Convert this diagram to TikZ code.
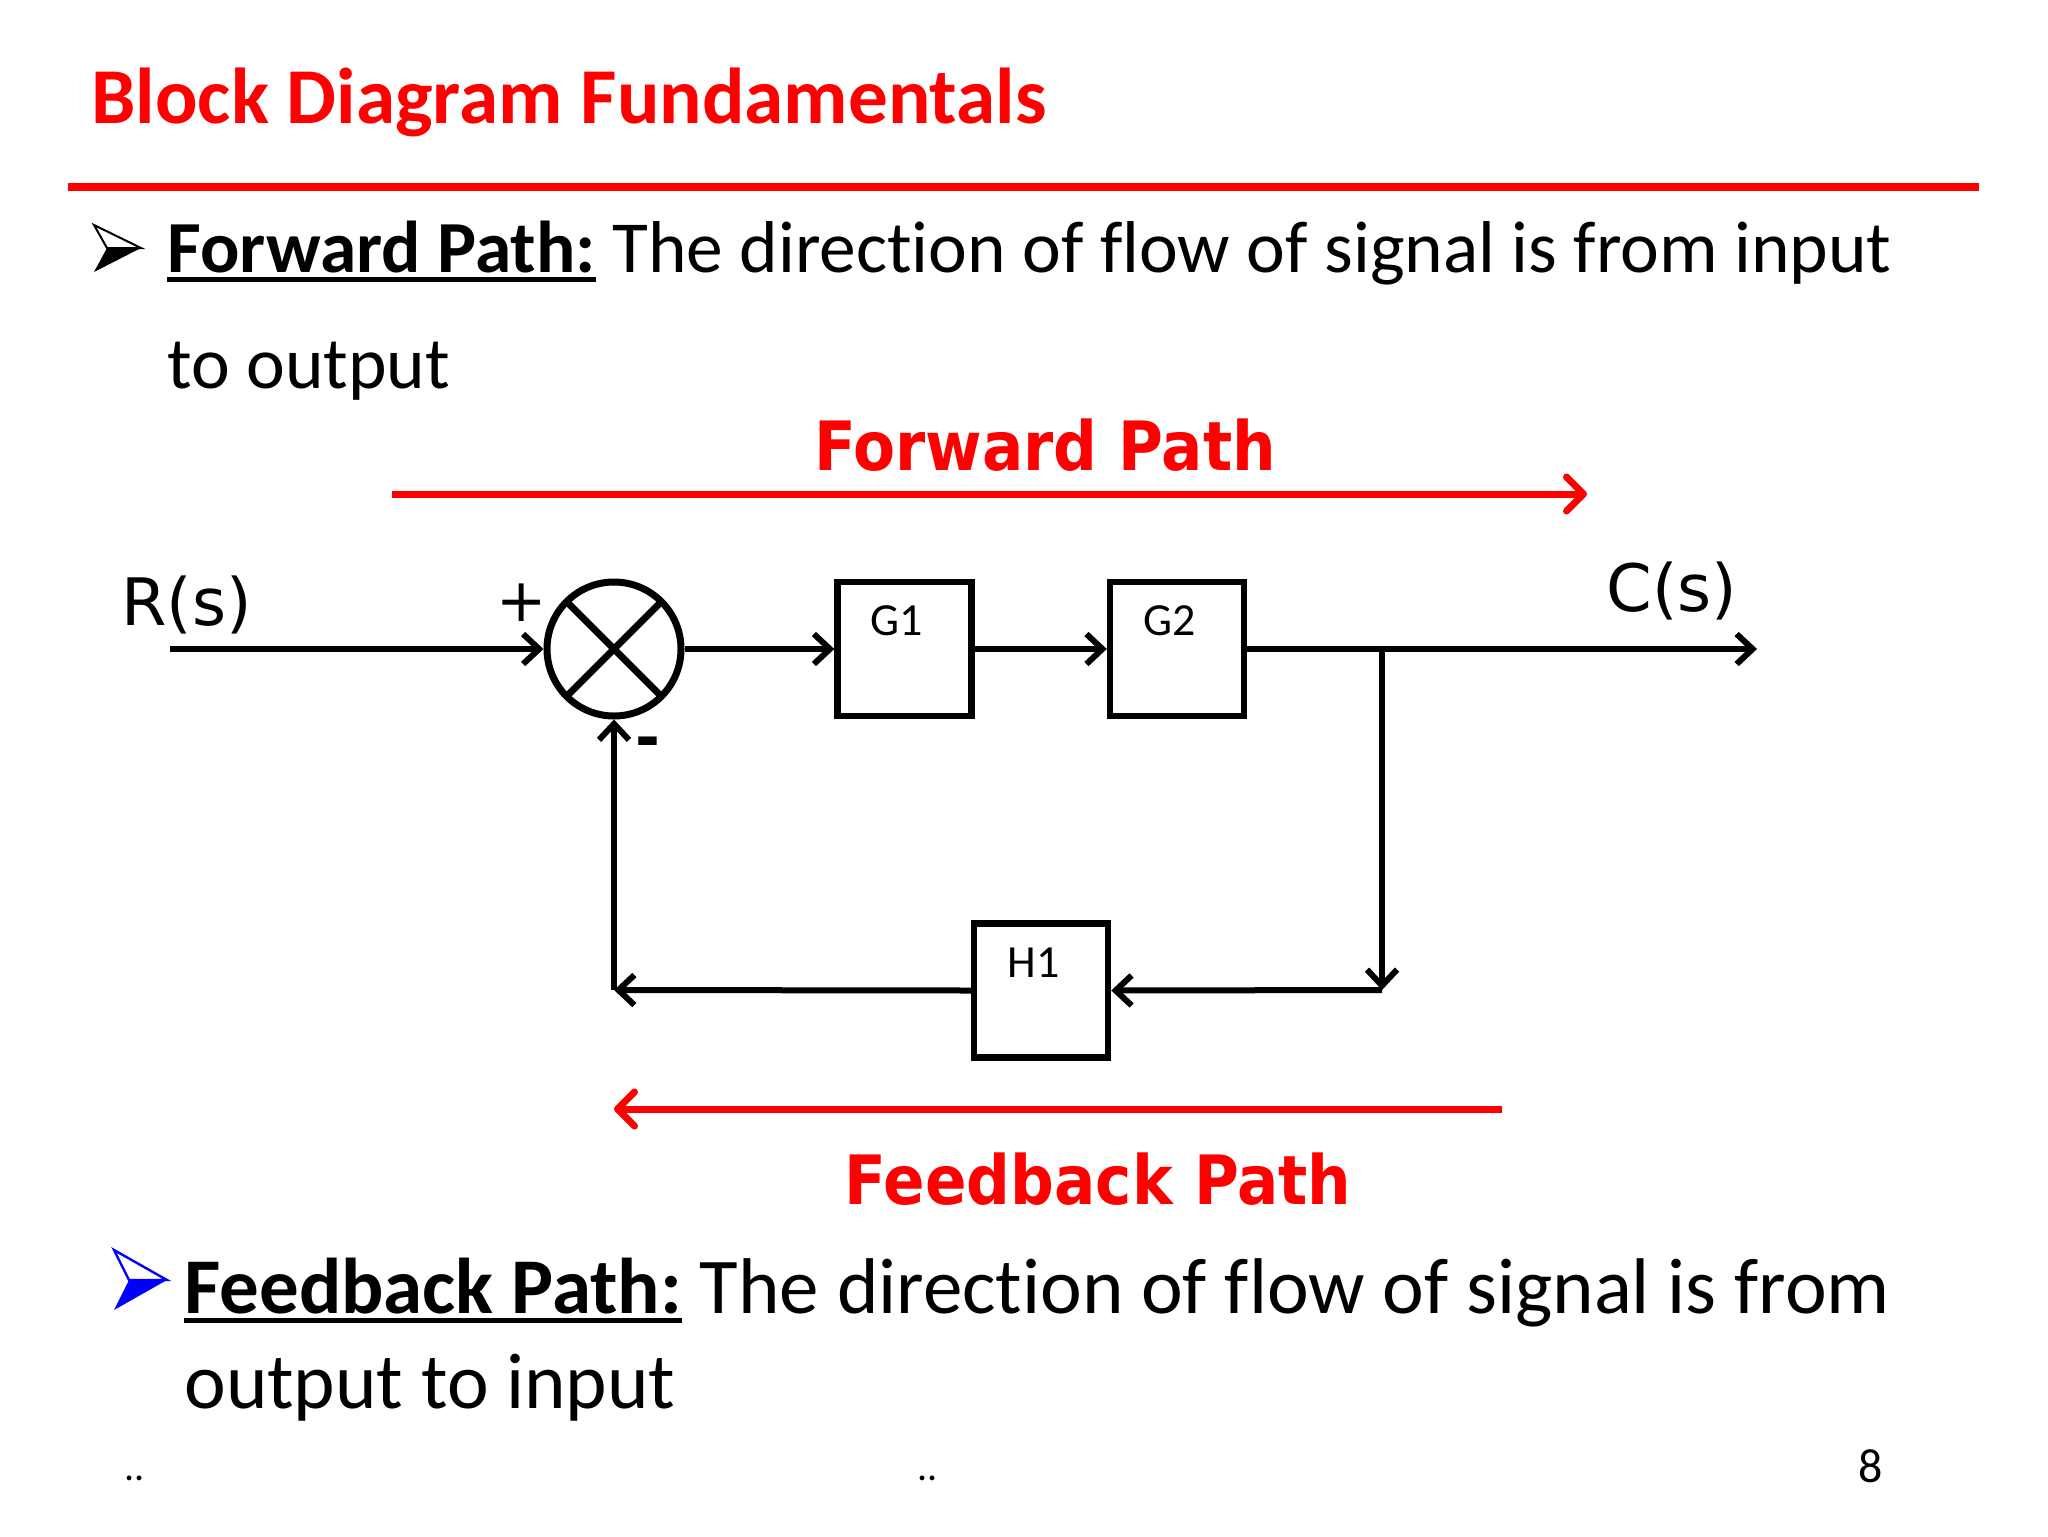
\documentclass[tikz,border=0pt]{standalone}
\usepackage{fontspec}
\setmainfont[Ligatures={NoCommon}]{Carlito}
\newfontfamily\vfont{DejaVu Sans}
\newfontfamily\vfontn[FakeStretch=0.9]{DejaVu Sans}
\usetikzlibrary{arrows.meta,calc}
\definecolor{slidered}{RGB}{255,0,0}
\definecolor{bulletblue}{RGB}{0,0,255}
\newcommand\thickul[1]{\setbox0=\hbox{#1}\rlap{\rule[-5pt]{\wd0}{2.5pt}}\box0}
\begin{document}
\begin{tikzpicture}[x=0.5pt,y=-0.5pt,
  txt/.style={inner sep=0pt, anchor=base west},
  ln/.style={line width=3pt, black},
  arr/.style={-{Straight Barb[length=8pt,width=15pt]}},
  redarr/.style={line width=3.5pt, slidered, -{Straight Barb[length=8.5pt,width=17pt,round]}},
  blk/.style={draw, line width=3.2pt, minimum width=67pt, minimum height=67pt, inner sep=0pt},
  blklbl/.style={inner sep=0pt, anchor=base west, font=\fontsize{23pt}{27pt}\selectfont},
  sig/.style={inner sep=0pt, anchor=base west, font=\vfont\fontsize{32.7pt}{38pt}\selectfont},
  pathlbl/.style={inner sep=0pt, anchor=base, text=slidered, font=\vfontn\bfseries\fontsize{34pt}{40pt}\selectfont}
]
\useasboundingbox (0,0) rectangle (2048,1536);
\fill[white] (0,0) rectangle (2048,1536);

% title
\node[txt, text=slidered, font=\bfseries\fontsize{39.6pt}{48pt}\selectfont] (title) at (91,124) {Block Diagram Fundamentals};
\draw[line width=4pt, slidered] (68,187) -- (1979,187);

% bullet 1
\draw[line width=1pt, fill=white] (94,225) -- (141,248) -- (107,248) -- cycle;
\fill (107,248) -- (141,248) -- (94,272) -- cycle;
\node[txt, font=\fontsize{36.7pt}{46pt}\selectfont] (b1) at (167,272) {\thickul{\textbf{Forward Path:}}\ The direction of flow of signal is from input};
\node[txt, font=\fontsize{36.7pt}{46pt}\selectfont] (b1b) at (167,388) {to output};

% forward path label and arrow
\node[pathlbl] (fplbl) at (1045,470) {Forward Path};
\coordinate (fpa) at (392,494);
\coordinate (fpb) at (1587,494);
\draw[redarr] (fpa) -- (fpb);

% diagram
\node[sig] (rs) at (121,625) {R(s)};
\node[sig] (cs) at (1606,611) {C(s)};
\node[draw, circle, line width=3.5pt, minimum size=67pt, inner sep=0pt] (sum) at (614,649) {};
\draw[line width=3.5pt] ($(sum.center)+(45:67)$) -- ($(sum.center)+(225:67)$);
\draw[line width=3.5pt] ($(sum.center)+(135:67)$) -- ($(sum.center)+(315:67)$);
\node[inner sep=0pt, font=\vfont\fontsize{30pt}{36pt}\selectfont] (plus) at (522,603) {+};
\node[inner sep=0pt, font=\vfont\bfseries\fontsize{30pt}{36pt}\selectfont] (minus) at (648,748) {-};

\node[blk] (g1) at (904.5,649) {};
\node[blk] (g2) at (1177,649) {};
\node[blk] (h1) at (1041,990.5) {};
\node[blklbl] (g1t) at ($(g1.center)+(-34,-14)$) {G1};
\node[blklbl] (g2t) at ($(g2.center)+(-34,-14)$) {G2};
\node[blklbl] (h1t) at ($(h1.center)+(-34,-13)$) {H1};

\coordinate (rin) at (170,649);
\coordinate (cout) at (1757,649);
\coordinate (branch) at (1382,649);
\coordinate (fbr) at (1382,990);
\coordinate (fbl) at (614,990);

\draw[ln, arr] (rin) -- (sum.west);
\draw[ln, arr] (sum.east) -- (g1.west);
\draw[ln, arr] (g1.east) -- (g2.west);
\draw[ln, arr] (g2.east) -- (cout);
\draw[ln, arr] (branch) -- (fbr);
\draw[ln, arr] (fbr) -- (h1.east);
\draw[ln, arr] (h1.west) -- (fbl);
\draw[ln, arr] (fbl) -- (sum.south);

% feedback path label and arrow
\coordinate (fba) at (1502,1109);
\coordinate (fbb) at (614,1109);
\draw[redarr] (fba) -- (fbb);
\node[pathlbl] (fblbl) at (1098,1204) {Feedback Path};

% bullet 2
\draw[line width=1.2pt, bulletblue, fill=white] (114,1250) -- (167,1280) -- (129,1280) -- cycle;
\fill[bulletblue] (129,1280) -- (167,1280) -- (114,1310) -- cycle;
\node[txt, font=\fontsize{39.5pt}{52pt}\selectfont] (b2) at (184,1313) {\thickul{\textbf{Feedback Path:}}\ The direction of flow of signal is from};
\node[txt, font=\fontsize{39.5pt}{52pt}\selectfont] (b2b) at (184,1408) {output to input};

% footer
\node[txt, font=\fontsize{20pt}{24pt}\selectfont] (f1) at (124,1480) {..};
\node[txt, font=\fontsize{20pt}{24pt}\selectfont] (f2) at (917,1480) {..};
\node[inner sep=0pt, anchor=base east, font=\fontsize{24pt}{28pt}\selectfont] (pg) at (1883,1482) {8};
\end{tikzpicture}
\end{document}
